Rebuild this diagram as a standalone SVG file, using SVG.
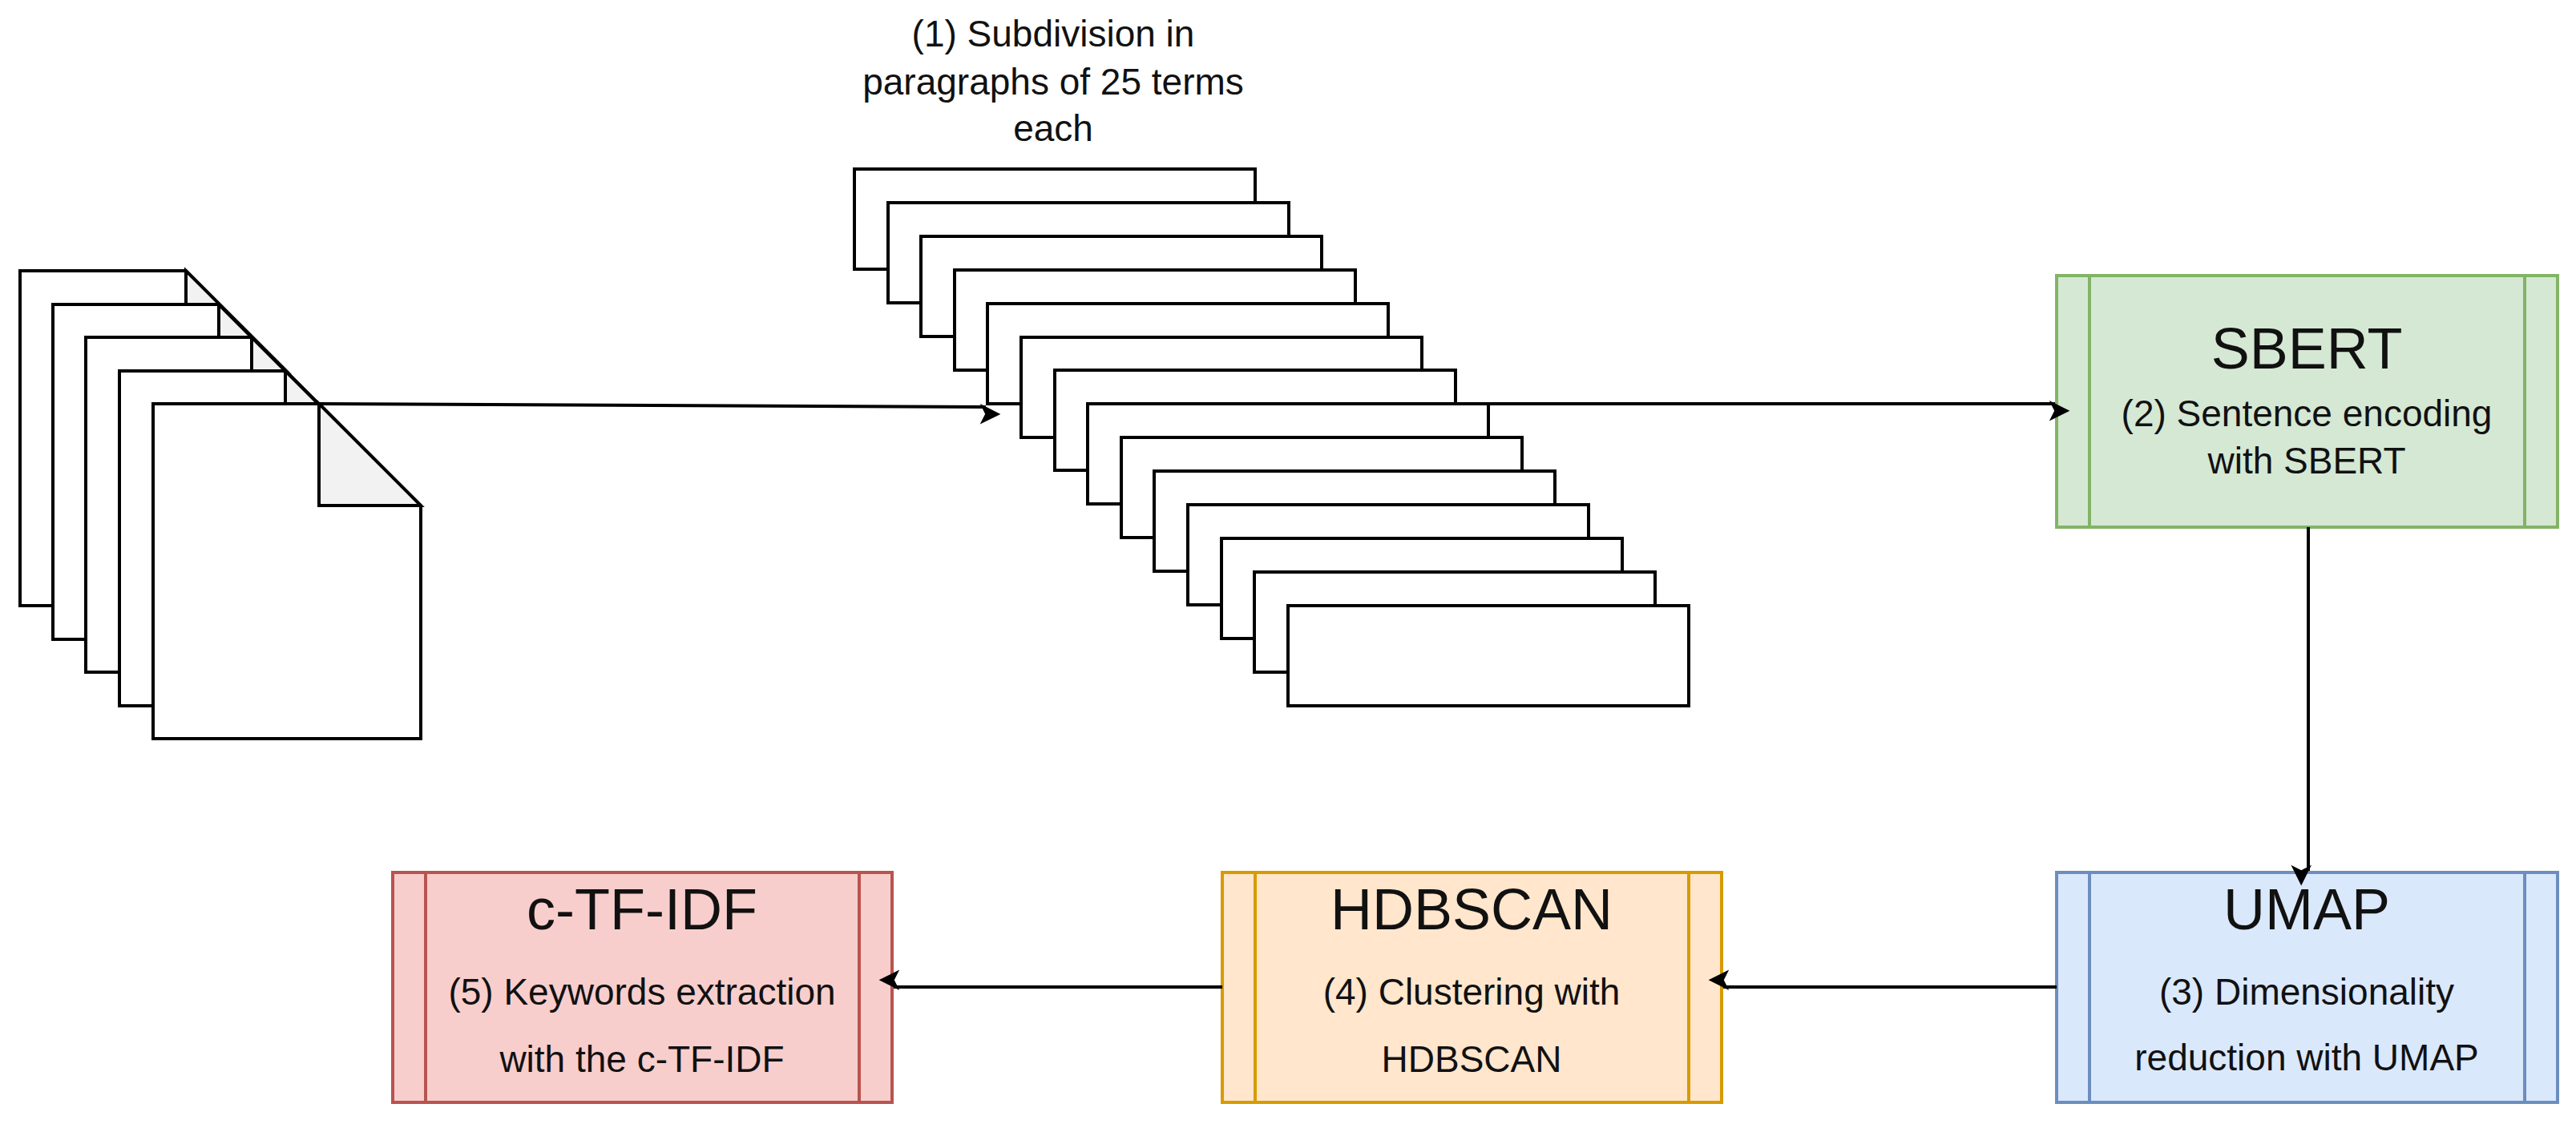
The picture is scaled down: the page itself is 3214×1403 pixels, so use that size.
<svg xmlns="http://www.w3.org/2000/svg" width="3214" height="1403" viewBox="0 0 3214 1403">
<style>
text{font-family:"Liberation Sans",Arial,sans-serif;fill:#111;text-anchor:middle}
.t{font-size:72px}.s{font-size:46px}
.pg{fill:#fff;stroke:#000;stroke-width:4}
.fold{fill:#f2f2f2;stroke:#000;stroke-width:4;stroke-linejoin:miter}
.c{stroke:#000;stroke-width:4;fill:none}
</style>
<defs>
<marker id="ah" viewBox="0 0 10 10" refX="9" refY="5" markerWidth="8" markerHeight="8" markerUnits="userSpaceOnUse" orient="auto" style="overflow:visible">
<path d="M0,0 L10,5 L0,10 L2.5,5 Z" fill="#000" transform="scale(3.2)"/>
</marker>
</defs>
<g id="documents">
<g id="doc0"><path class="pg" d="M25,338 h207 l127,127 v291 h-334 Z"/><path class="fold" d="M232,338 v127 h127 Z"/></g>
<g id="doc1"><path class="pg" d="M66,380 h207 l127,127 v291 h-334 Z"/><path class="fold" d="M273,380 v127 h127 Z"/></g>
<g id="doc2"><path class="pg" d="M107,421 h207 l127,127 v291 h-334 Z"/><path class="fold" d="M314,421 v127 h127 Z"/></g>
<g id="doc3"><path class="pg" d="M149,463 h207 l127,127 v291 h-334 Z"/><path class="fold" d="M356,463 v127 h127 Z"/></g>
<g id="doc4"><path class="pg" d="M191,504 h207 l127,127 v291 h-334 Z"/><path class="fold" d="M398,504 v127 h127 Z"/></g>
</g>
<g id="paragraphs">
<text class="s" x="1314" y="58">(1) Subdivision in</text>
<text class="s" x="1314" y="118">paragraphs of 25 terms</text>
<text class="s" x="1314" y="176">each</text>
<rect class="pg" x="1066" y="211" width="500" height="125"/>
<rect class="pg" x="1108" y="253" width="500" height="125"/>
<rect class="pg" x="1149" y="295" width="500" height="125"/>
<rect class="pg" x="1191" y="337" width="500" height="125"/>
<rect class="pg" x="1232" y="379" width="500" height="125"/>
<rect class="pg" x="1274" y="421" width="500" height="125"/>
<rect class="pg" x="1316" y="462" width="500" height="125"/>
<rect class="pg" x="1357" y="504" width="500" height="125"/>
<rect class="pg" x="1399" y="546" width="500" height="125"/>
<rect class="pg" x="1440" y="588" width="500" height="125"/>
<rect class="pg" x="1482" y="630" width="500" height="125"/>
<rect class="pg" x="1524" y="672" width="500" height="125"/>
<rect class="pg" x="1565" y="714" width="500" height="125"/>
<rect class="pg" x="1607" y="756" width="500" height="125"/>
</g>
<g id="sbert">
<rect x="2566" y="344" width="625" height="314" fill="#d5e8d4" stroke="#82b366" stroke-width="4"/>
<path d="M2607,344 V658 M3150,344 V658" stroke="#82b366" stroke-width="4"/>
<text class="t" x="2878" y="460">SBERT</text>
<text class="s" x="2878" y="532">(2) Sentence encoding</text>
<text class="s" x="2878" y="591">with SBERT</text>
</g>
<g id="umap">
<rect x="2566" y="1089" width="625" height="287" fill="#dae8fc" stroke="#6c8ebf" stroke-width="4"/>
<path d="M2607,1089 V1376 M3150,1089 V1376" stroke="#6c8ebf" stroke-width="4"/>
<text class="t" x="2878" y="1160">UMAP</text>
<text class="s" x="2878" y="1254">(3) Dimensionality</text>
<text class="s" x="2878" y="1336">reduction with UMAP</text>
</g>
<g id="hdbscan">
<rect x="1525" y="1089" width="623" height="287" fill="#ffe6cc" stroke="#d79b00" stroke-width="4"/>
<path d="M1566,1089 V1376 M2107,1089 V1376" stroke="#d79b00" stroke-width="4"/>
<text class="t" x="1836" y="1160">HDBSCAN</text>
<text class="s" x="1836" y="1254">(4) Clustering with</text>
<text class="s" x="1836" y="1338">HDBSCAN</text>
</g>
<g id="ctfidf">
<rect x="490" y="1089" width="623" height="287" fill="#f8cecc" stroke="#b85450" stroke-width="4"/>
<path d="M531,1089 V1376 M1072,1089 V1376" stroke="#b85450" stroke-width="4"/>
<text class="t" x="801" y="1160">c-TF-IDF</text>
<text class="s" x="801" y="1254">(5) Keywords extraction</text>
<text class="s" x="801" y="1338">with the c-TF-IDF</text>
</g>
<g id="connectors">
<path class="c" d="M398,504 L1230,508" marker-end="url(#ah)"/>
<path class="c" d="M1857,504 L2564,504" marker-end="url(#ah)"/>
<path class="c" d="M2880,658 L2880,1087" marker-end="url(#ah)"/>
<path class="c" d="M2566,1232 L2150,1232" marker-end="url(#ah)"/>
<path class="c" d="M1525,1232 L1115,1232" marker-end="url(#ah)" stroke="#333"/>
</g>
</svg>
